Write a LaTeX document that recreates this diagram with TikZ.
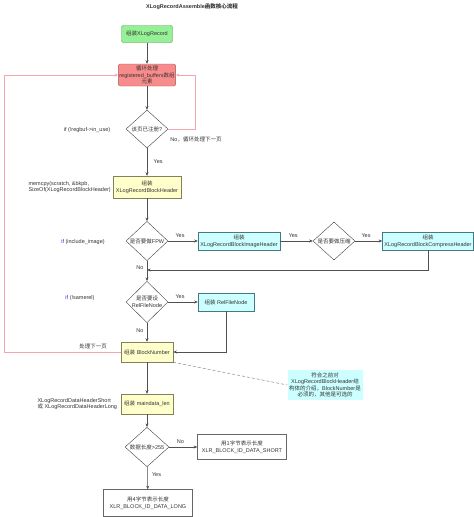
\documentclass[tikz,border=0pt]{standalone}
\usepackage{fontspec}
\setmainfont{Liberation Sans}
\newfontfamily\cjk{Noto Sans CJK SC}
\usetikzlibrary{shapes.geometric, arrows.meta, positioning}
\definecolor{startgreen}{RGB}{150, 240, 150}
\definecolor{startedge}{RGB}{80, 150, 80}
\definecolor{looprose}{RGB}{248, 140, 140}
\definecolor{loopedge}{RGB}{170, 80, 80}
\definecolor{boxyellow}{RGB}{255, 255, 204}
\definecolor{yellowedge}{RGB}{130, 130, 90}
\definecolor{boxcyan}{RGB}{204, 255, 255}
\definecolor{cyanedge}{RGB}{70, 120, 130}
\definecolor{backpink}{RGB}{245, 165, 175}
\definecolor{linegray}{RGB}{80, 80, 80}
\definecolor{ifblue}{RGB}{40, 40, 220}

\begin{document}
\begin{tikzpicture}[x=1pt, y=-1pt, >={Stealth[length=3.6pt, width=3pt]},
    every node/.style={font=\fontsize{5.5}{6.6}\selectfont, text=black!80},
    flow/.style={draw=linegray, line width=0.5pt, ->},
    back/.style={draw=backpink, line width=0.6pt, ->},
    greenbox/.style={draw=startedge, fill=startgreen, rounded corners=2pt, minimum width=51pt, minimum height=17pt, inner sep=1pt},
    rosebox/.style={draw=loopedge, fill=looprose, rounded corners=2pt, minimum width=56pt, minimum height=22pt, inner sep=1pt, align=center},
    yellowbox/.style={draw=yellowedge, fill=boxyellow, minimum height=20pt, inner sep=1.5pt, align=center},
    cyanbox/.style={draw=cyanedge, fill=boxcyan, minimum height=18pt, inner sep=1.5pt, align=center},
    plainbox/.style={draw=black!60, fill=white, minimum width=89pt, minimum height=25pt, inner sep=1pt, align=center},
    decide/.style={diamond, draw=black!75, fill=white, minimum width=42pt, minimum height=35pt, inner sep=0pt, align=center},
    note/.style={inner sep=0.5pt, align=center}]
    \useasboundingbox (0,0) rectangle (474,517);

    \node[font=\fontsize{5.5}{6.6}\selectfont\bfseries] (title) at (192,7) {XLogRecordAssemble{\cjk 函数核心流程}};

    \node[greenbox] (start) at (147,34) {{\cjk 组装}XLogRecord};
    \node[rosebox] (loop) at (147,75) {{\cjk 循环处理}\\registered\_buffers{\cjk 数组}\\{\cjk 元素}};
    \node[decide, minimum height=38pt] (reg) at (147,129) {{\cjk 该页已注册}?};
    \node[yellowbox, minimum width=68pt, minimum height=22pt] (bhdr) at (147,187) {{\cjk 组装}\\XLogRecordBlockHeader};

    \node[decide] (img) at (147,241) {{\cjk 是否要做}FPW};
    \node[cyanbox, minimum width=82pt] (imghdr) at (239,241) {{\cjk 组装}\\XLogRecordBlockImageHeader};
    \node[decide] (cmp) at (334,241) {{\cjk 是否要做压缩}};
    \node[cyanbox, minimum width=91pt] (cmphdr) at (428,241) {{\cjk 组装}\\XLogRecordBlockCompressHeader};
    \coordinate (cmpjoin) at (147,270);

    \node[decide] (rfn) at (147,302) {{\cjk 是否要设}\\RelFileNode};
    \node[cyanbox, minimum width=56pt] (rfnbox) at (226,302) {{\cjk 组装} RelFileNode};

    \node[yellowbox, minimum width=52pt] (bnum) at (147,352) {{\cjk 组装} BlockNumber};
    \node[note, fill=boxcyan, minimum width=75pt, minimum height=30pt] (remark) at (325,385)
        {{\cjk 符合之前对}\\XLogRecordBlockHeader{\cjk 结}\\{\cjk 构体的介绍，}BlockNumber{\cjk 是}\\{\cjk 必须的，其他是可选的}};
    \node[yellowbox, minimum width=52pt] (mdl) at (147,404) {{\cjk 组装} maindata\_len};

    \node[decide, minimum width=44pt, minimum height=36pt] (len) at (147,447) {{\cjk 数据长度}>255};
    \node[plainbox] (short) at (242,447) {{\cjk 用1字节表示长度}\\XLR\_BLOCK\_ID\_DATA\_SHORT};
    \node[plainbox, minimum height=27pt] (long) at (148,503) {{\cjk 用4字节表示长度}\\XLR\_BLOCK\_ID\_DATA\_LONG};

    % side notes
    \node (regif) at (87,130) {if (!regbuf->in\_use)};
    \node (regno) at (196,139) {No{\cjk ，循环处理下一页}};
    \node[align=left, anchor=west] (cpy) at (25,187) {memcpy(scratch, \&bkpb,\\SizeOf(XLogRecordBlockHeader)};
    \node (imgif) at (83,242) {{\color{ifblue}if} (include\_image)};
    \node (rfnif) at (80,298) {{\color{ifblue}if} (!samerel)};
    \node (nextpg) at (93,346) {\cjk 处理下一页};
    \node[align=left, anchor=west] (dhdr) at (34,404) {XLogRecordDataHeaderShort\\{\cjk 或} XLogRecordDataHeaderLong};

    % main flow
    \draw[flow] (start) -- (loop);
    \draw[flow] (loop) -- (reg);
    \draw[flow] (reg) -- node[right, xshift=3pt] {Yes} (bhdr);
    \draw[flow] (bhdr) -- (img);
    \draw[flow] (img) -- node[above, pos=0.4] {Yes} (imghdr);
    \draw[flow] (imghdr) -- node[above, pos=0.4] {Yes} (cmp);
    \draw[flow] (cmp) -- node[above, pos=0.4] {Yes} (cmphdr);
    \draw[flow] (cmphdr.south) |- (cmpjoin);
    \draw[flow] (img) -- node[left, pos=0.35] {No} (rfn);
    \draw[flow] (rfn) -- node[above, pos=0.4] {Yes} (rfnbox);
    \draw[flow] (rfnbox.south) |- (bnum.east);
    \draw[flow] (rfn) -- node[left, pos=0.4] {No} (bnum);
    \draw[flow] (bnum) -- (mdl);
    \draw[flow] (mdl) -- (len);
    \draw[flow] (len) -- node[above, pos=0.4] {No} (short);
    \draw[flow] (len) -- node[right, pos=0.35, xshift=1pt] {Yes} (long);

    % loop backs
    \coordinate (regturn) at (195,75);
    \coordinate (pageturn) at (4,75);
    \draw[back] (reg.east) -| (regturn) -- (loop.east);
    \draw[back] (bnum.west) -| (pageturn) -- (loop.west);
    \draw[densely dashed, draw=black!55, line width=0.4pt] (bnum.south east) -- (remark.west);
\end{tikzpicture}
\end{document}
